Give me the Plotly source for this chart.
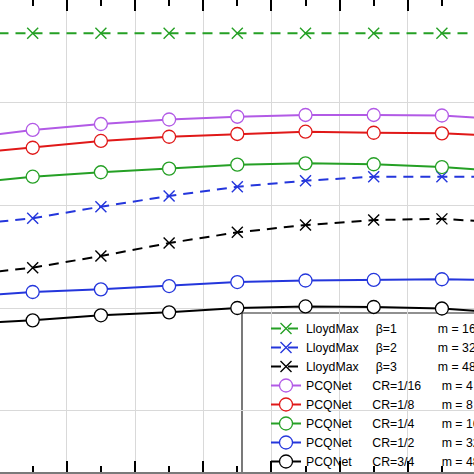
import plotly.graph_objects as go

# x positions of the evaluated points (edge points lie just outside the visible window)
x_vals = [-1, 1, 3, 5, 7, 9, 11, 13, 15]

lloyd_b1 = [4.68, 4.68, 4.68, 4.68, 4.68, 4.68, 4.68, 4.68, 4.68]
lloyd_b2 = [2.811, 2.877, 2.990, 3.094, 3.184, 3.243, 3.282, 3.282, 3.282]
lloyd_b3 = [2.324, 2.396, 2.509, 2.636, 2.740, 2.811, 2.860, 2.871, 2.831]
pcq_16 = [3.656, 3.737, 3.795, 3.839, 3.866, 3.883, 3.883, 3.878, 3.836]
pcq_8 = [3.503, 3.564, 3.630, 3.671, 3.698, 3.720, 3.710, 3.704, 3.677]
pcq_4 = [3.215, 3.282, 3.325, 3.360, 3.399, 3.412, 3.403, 3.376, 3.329]
pcq_2 = [2.112, 2.159, 2.185, 2.217, 2.256, 2.271, 2.276, 2.283, 2.271]
pcq_34 = [1.848, 1.883, 1.932, 1.961, 2.003, 2.018, 2.013, 1.998, 1.953]

NB = "\u00a0"
names = [
    "LloydMax" + NB * 5 + "β=1" + NB * 12 + "m = 16",
    "LloydMax" + NB * 5 + "β=2" + NB * 12 + "m = 32",
    "LloydMax" + NB * 5 + "β=3" + NB * 12 + "m = 48",
    "PCQNet" + NB * 6 + "CR=1/16" + NB * 6 + "m = 4",
    "PCQNet" + NB * 6 + "CR=1/8" + NB * 8 + "m = 8",
    "PCQNet" + NB * 6 + "CR=1/4" + NB * 8 + "m = 16",
    "PCQNet" + NB * 6 + "CR=1/2" + NB * 8 + "m = 32",
    "PCQNet" + NB * 6 + "CR=3/4" + NB * 8 + "m = 48",
]

GREEN = "#25a025"
BLUE = "#2436dc"
PURPLE = "#b25ae6"
RED = "#e01818"
BLACK = "#000000"

series = [
    (lloyd_b1, GREEN, "lloyd"),
    (lloyd_b2, BLUE, "lloyd"),
    (lloyd_b3, BLACK, "lloyd"),
    (pcq_16, PURPLE, "pcq"),
    (pcq_8, RED, "pcq"),
    (pcq_4, GREEN, "pcq"),
    (pcq_2, BLUE, "pcq"),
    (pcq_34, BLACK, "pcq"),
]

fig = go.Figure()
for (vals, col, kind), name in zip(series, names):
    if kind == "lloyd":
        fig.add_trace(go.Scatter(
            x=x_vals, y=vals, name=name, mode="lines+markers",
            line=dict(color=col, width=2, dash="10px,7px"),
            marker=dict(symbol="x-thin", size=11, line=dict(color=col, width=1.4)),
        ))
    else:
        fig.add_trace(go.Scatter(
            x=x_vals, y=vals, name=name, mode="lines+markers",
            line=dict(color=col, width=2),
            marker=dict(symbol="circle", size=13, color="white",
                        line=dict(color=col, width=1.3)),
        ))

fig.add_shape(type="rect", xref="paper", yref="paper",
              x0=242 / 474, x1=1.05, y0=-0.05, y1=1 - 313 / 472,
              fillcolor="white", line=dict(color="#222222", width=1.2),
              layer="between")

fig.update_layout(
    width=474, height=474,
    margin=dict(l=0, r=0, t=0, b=2, autoexpand=False),
    paper_bgcolor="white", plot_bgcolor="white",
    font=dict(family="Liberation Sans, Arial, sans-serif", size=12.3, color="black"),
    showlegend=True,
    legend=dict(x=266 / 474, xanchor="left", y=1 - 314 / 472, yanchor="top",
                bgcolor="rgba(0,0,0,0)", borderwidth=0,
                font=dict(size=12.3, color="black")),
    xaxis=dict(range=[0.041, 13.941], tick0=0, dtick=2, showgrid=True,
               gridcolor="#d9d9d9", gridwidth=1, zeroline=False,
               ticks="inside", ticklen=11, tickwidth=2, tickcolor="black",
               showticklabels=False, showline=True, linecolor="#7a7a7a",
               linewidth=2.5, mirror="ticks",
               minor=dict(dtick=1, tick0=0, ticks="inside", ticklen=6,
                          tickwidth=1.5, tickcolor="black", showgrid=False)),
    yaxis=dict(range=[0.4057, 5.0029], tick0=0, dtick=1, showgrid=True,
               gridcolor="#d9d9d9", gridwidth=1, zeroline=False,
               ticks="", showticklabels=False, showline=False),
)

fig.write_html("out.html")
